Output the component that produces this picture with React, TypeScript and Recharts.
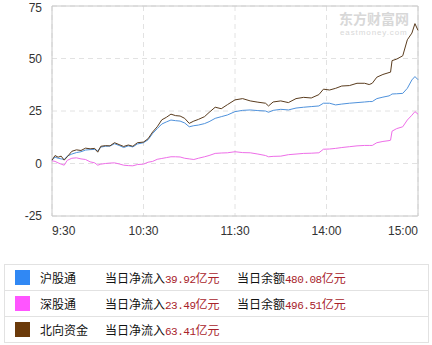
import React from 'react';
import {CartesianGrid, Line, LineChart, ReferenceArea, XAxis, YAxis} from 'recharts';

// minutes since 9:30 (lunch break removed: 120 = 11:30 / 13:00, 240 = 15:00)
const minutes = [0, 2, 4, 6, 8, 10, 13, 16, 19, 22, 25, 28, 30, 32, 35, 38, 41, 44, 47, 50, 53, 56, 60, 63, 66, 69, 72, 75, 78, 81, 84, 87, 90, 93, 96, 100, 103, 107, 111, 115, 120, 125, 130, 135, 140, 142, 145, 150, 155, 160, 165, 170, 175, 178, 182, 186, 190, 195, 200, 205, 208, 210, 213, 217, 221, 222, 223, 226, 230, 233, 236, 238, 240];

const shanghai = [1.6, 3.0, 2.5, 2.2, 1.9, 3.5, 4.5, 5.2, 5.6, 6.4, 6.6, 6.7, 6.0, 7.8, 8.2, 8.3, 9.4, 8.6, 7.6, 8.4, 7.9, 9.3, 9.9, 11.3, 14.3, 16.6, 18.8, 19.8, 20.7, 20.4, 20.2, 19.3, 17.5, 18.0, 18.3, 19.0, 19.9, 21.5, 22.3, 23.1, 24.7, 25.3, 25.5, 25.2, 25.0, 24.4, 25.3, 25.8, 25.5, 26.4, 26.8, 27.1, 27.4, 28.7, 28.7, 27.9, 28.3, 28.7, 29.0, 29.3, 29.5, 29.5, 30.9, 31.6, 32.2, 32.6, 33.1, 33.2, 33.4, 35.8, 39.8, 41.4, 39.9];

const shenzhen = [1.3, 1.0, 0.3, -0.3, -0.8, 1.5, 2.5, 2.7, 2.2, 1.9, 0.8, 0.3, -0.8, -0.3, 0.0, 0.2, 0.3, -0.2, -0.8, -1.0, -1.1, -0.5, -0.3, 0.6, 1.0, 2.0, 2.4, 2.8, 3.2, 3.2, 3.1, 2.5, 2.2, 1.9, 2.5, 3.2, 3.8, 4.8, 5.0, 5.1, 5.6, 5.2, 5.1, 4.5, 3.8, 3.2, 3.4, 3.5, 4.2, 4.5, 4.8, 4.9, 5.1, 6.8, 6.9, 7.2, 7.6, 8.0, 8.4, 8.6, 8.6, 8.6, 9.9, 10.5, 10.9, 11.1, 15.4, 16.6, 17.5, 20.7, 23.0, 24.7, 23.5];

const north = [1.6, 3.8, 3.0, 3.5, 1.6, 3.2, 5.8, 6.5, 6.2, 7.3, 7.0, 7.2, 5.4, 8.2, 8.5, 8.4, 9.9, 9.0, 8.1, 8.8, 8.2, 9.9, 10.2, 11.8, 15.0, 17.5, 20.8, 22.0, 23.5, 22.8, 22.6, 21.5, 19.1, 20.2, 21.0, 22.3, 24.3, 26.8, 26.1, 28.0, 30.3, 30.9, 29.8, 29.2, 28.7, 27.4, 29.3, 29.8, 29.0, 30.9, 31.5, 31.2, 32.8, 35.4, 35.0, 35.8, 36.9, 37.1, 38.2, 38.2, 37.6, 38.2, 41.1, 42.4, 43.3, 43.5, 49.0, 49.7, 51.3, 58.9, 62.1, 66.6, 63.4];

const xTicks = [0, 60, 120, 180, 240];
const xTickLabels = ['9:30', '10:30', '11:30', '14:00', '15:00'];
const yTicks = [-25, 0, 25, 50, 75];

const legendNames = ['沪股通', '深股通', '北向资金'];
const legendColors = ['#3088f4', '#ff55ff', '#6b3a0a'];
const netInflow = ['39.92', '23.49', '63.41'];
const balance = ['480.08', '496.51', ''];

const rows = minutes.map((t, i) => ({t, sh: shanghai[i], sz: shenzhen[i], nb: north[i]}));

const XTick = (props: any) => {
    const {x, y, index} = props;
    const anchor = index === 0 ? 'start' : index === xTickLabels.length - 1 ? 'end' : 'middle';
    return (
        <text x={x} y={y} dy="0.71em" textAnchor={anchor} fill="#333" fontSize={12}
              fontFamily="Liberation Sans, Arial, sans-serif">
            {xTickLabels[index]}
        </text>
    );
};

const cjk = '"Noto Sans CJK SC", sans-serif';
const numStyle = {color: '#a8232b', fontFamily: 'Liberation Mono, monospace', fontSize: 11, letterSpacing: -0.5};

export default function App() {
    return (
        <div style={{position: 'absolute', left: 0, top: 0, width: 432, height: 345, background: '#fff'}}>
            <LineChart width={432} height={240} data={rows}
                       margin={{top: 6, right: 14, bottom: 0, left: 0}}>
                <CartesianGrid stroke="#e2e2e2" strokeDasharray="5 4" />
                <XAxis dataKey="t" type="number" domain={[0, 240]} ticks={xTicks} tick={<XTick />}
                       axisLine={false} tickLine={false} tickSize={0} tickMargin={10} height={24} />
                <YAxis type="number" domain={[-25, 75]} ticks={yTicks} width={52}
                       axisLine={false} tickLine={false} tickSize={0} tickMargin={10}
                       tick={{fill: '#333', fontSize: 12, fontFamily: 'Liberation Sans, Arial, sans-serif'}} />
                <ReferenceArea x1={0} x2={240} y1={-25} y2={75} fill="none" stroke="#c8c8c8" strokeWidth={1} />
                <Line type="linear" dataKey="sz" stroke="#ee6ee8" strokeWidth={1} dot={false} isAnimationActive={false} />
                <Line type="linear" dataKey="sh" stroke="#4f92dc" strokeWidth={1} dot={false} isAnimationActive={false} />
                <Line type="linear" dataKey="nb" stroke="#5a3c1e" strokeWidth={1} dot={false} isAnimationActive={false} />
            </LineChart>

            {/* watermark */}
            <div style={{position: 'absolute', left: 339, top: 11, color: '#d8d8d8', fontFamily: cjk,
                fontSize: 14, fontWeight: 'bold', lineHeight: '15px'}}>东方财富网</div>
            <div style={{position: 'absolute', left: 340, top: 28, color: '#d8d8d8',
                fontFamily: 'Liberation Sans, sans-serif', fontSize: 8, lineHeight: '9px', letterSpacing: 0.9}}>
                eastmoney.com
            </div>

            <div style={{position: 'absolute', left: 4, top: 264, width: 423, border: '1px solid #e2e2e2',
                fontFamily: cjk, fontSize: 12, color: '#111'}}>
                {legendNames.map((name, i) => (
                    <div key={name} style={{position: 'relative', height: 25,
                        borderTop: i === 0 ? 'none' : '1px solid #e2e2e2'}}>
                        <div style={{position: 'absolute', left: 10, top: 5, width: 15, height: 15,
                            background: legendColors[i]}} />
                        <div style={{position: 'absolute', left: 35, top: 4, lineHeight: '17px'}}>{name}</div>
                        <div style={{position: 'absolute', left: 100, top: 4, lineHeight: '17px', whiteSpace: 'nowrap'}}>
                            当日净流入<span style={numStyle}>{netInflow[i]}</span><span style={{color: '#a8232b'}}>亿元</span>
                        </div>
                        {balance[i] && (
                            <div style={{position: 'absolute', left: 232, top: 4, lineHeight: '17px', whiteSpace: 'nowrap'}}>
                                当日余额<span style={numStyle}>{balance[i]}</span><span style={{color: '#a8232b'}}>亿元</span>
                            </div>
                        )}
                    </div>
                ))}
            </div>
        </div>
    );
}
